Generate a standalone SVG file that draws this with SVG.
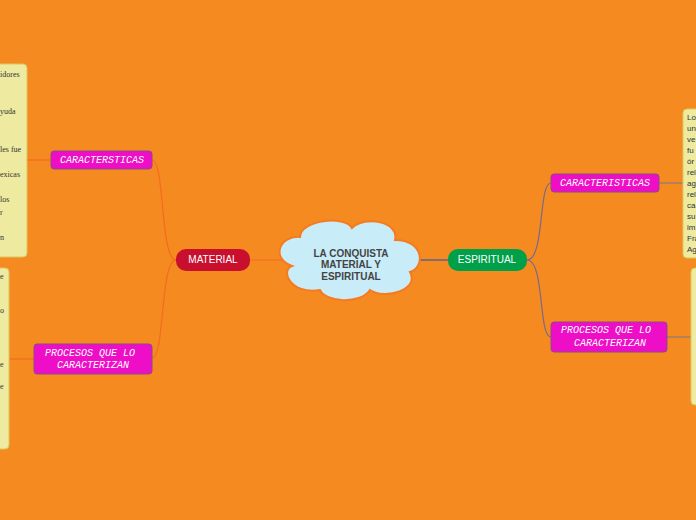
<svg xmlns="http://www.w3.org/2000/svg" width="696" height="520" viewBox="0 0 696 520">
<style>
.note{fill:#eeeaa0;stroke:#d8c860;stroke-width:1}
.nt{font-family:"Liberation Serif",serif;font-size:8px;fill:#333}
.ntr{font-family:"Liberation Sans",sans-serif;font-size:8px;fill:#333}
.pink{fill:#ee0ec8;stroke:#8a4a8a;stroke-width:1}
.pt{font-family:"Liberation Mono",monospace;font-style:italic;font-size:10px;fill:#fff}
.mt{font-family:"Liberation Sans",sans-serif;font-size:10px;fill:#fff}
.c{fill:none;stroke-width:1.2}
</style>
<rect width="696" height="520" fill="#f58a20"/>
<g id="connectors">
<path class="c" stroke="#f56a20" d="M250 260 H285"/>
<path class="c" stroke="#3a5aa8" d="M420 260 H448"/>
<path class="c" stroke="#f56a20" d="M176 260 C160 260 165 160 152 160"/>
<path class="c" stroke="#f56a20" d="M176 260 C160 260 165 358 152 358"/>
<path class="c" stroke="#f56a20" d="M51 160 H27"/>
<path class="c" stroke="#f56a20" d="M34 359 H10"/>
<path class="c" stroke="#7a6a8a" d="M527 260 C545 260 538 183 551 183"/>
<path class="c" stroke="#7a6a8a" d="M527 260 C545 260 538 337 551 337"/>
<path class="c" stroke="#8a7a7a" d="M659 183 H683"/>
<path class="c" stroke="#8a7a7a" d="M667 337 H691"/>
</g>
<g id="root">
<path d="M300 237 C300 220 345 215 352 228 C365 215 400 222 395 240 C425 240 425 268 410 272 C420 290 385 300 370 290 C360 305 325 302 320 290 C290 295 280 270 292 266 C270 258 280 235 300 237 Z" fill="#c8ecf8" stroke="#f57a20" stroke-width="2"/>
<text font-family="Liberation Sans,sans-serif" font-size="10" font-weight="bold" fill="#444" text-anchor="middle"><tspan x="351" y="257">LA CONQUISTA</tspan><tspan x="351" y="268">MATERIAL Y</tspan><tspan x="351" y="280">ESPIRITUAL</tspan></text>
</g>
<g id="material"><rect x="176" y="249" width="74" height="22" rx="10" fill="#c8102e"/><text class="mt" x="213" y="263" text-anchor="middle">MATERIAL</text></g>
<g id="espiritual"><rect x="448" y="249" width="79" height="22" rx="10" fill="#00a04a"/><text class="mt" x="487" y="263" text-anchor="middle">ESPIRITUAL</text></g>
<g id="caracm"><rect class="pink" x="51" y="151" width="101" height="18" rx="3"/><text class="pt" x="102" y="163" text-anchor="middle">CARACTERSTICAS</text></g>
<g id="procm"><rect class="pink" x="34" y="344" width="118" height="30" rx="3"/><text class="pt" text-anchor="middle"><tspan x="90" y="356">PROCESOS QUE LO</tspan><tspan x="93" y="368">CARACTERIZAN</tspan></text></g>
<g id="carace"><rect class="pink" x="551" y="174" width="108" height="18" rx="3"/><text class="pt" x="605" y="186" text-anchor="middle">CARACTERISTICAS</text></g>
<g id="proce"><rect class="pink" x="551" y="322" width="116" height="30" rx="3"/><text class="pt" text-anchor="middle"><tspan x="606" y="333">PROCESOS QUE LO</tspan><tspan x="610" y="346">CARACTERIZAN</tspan></text></g>
<g id="note1"><rect class="note" x="-10" y="64" width="37" height="193" rx="4"/>
<text class="nt"><tspan x="0" y="77">idores</tspan><tspan x="0" y="114">yuda</tspan><tspan x="0" y="152">les fue</tspan><tspan x="0" y="177">exicas</tspan><tspan x="0" y="202">los</tspan><tspan x="0" y="215">r</tspan><tspan x="0" y="240">n</tspan></text></g>
<g id="note2"><rect class="note" x="-10" y="268" width="19" height="181" rx="4"/>
<text class="nt"><tspan x="0" y="279">e</tspan><tspan x="0" y="313">o</tspan><tspan x="0" y="367">e</tspan><tspan x="0" y="389">e</tspan></text></g>
<g id="note3"><rect class="note" x="683" y="109" width="20" height="149" rx="4"/>
<text class="ntr"><tspan x="687" y="120">Lo</tspan><tspan x="687" y="131">un</tspan><tspan x="687" y="142">ve</tspan><tspan x="687" y="153">fu</tspan><tspan x="687" y="164">ór</tspan><tspan x="687" y="175">rel</tspan><tspan x="687" y="186">ag</tspan><tspan x="687" y="197">rel</tspan><tspan x="687" y="208">ca</tspan><tspan x="687" y="219">su</tspan><tspan x="687" y="230">im</tspan><tspan x="687" y="241">Fra</tspan><tspan x="687" y="252">Ag</tspan></text></g>
<g id="note4"><rect class="note" x="691" y="268" width="20" height="137" rx="4"/></g>
</svg>
